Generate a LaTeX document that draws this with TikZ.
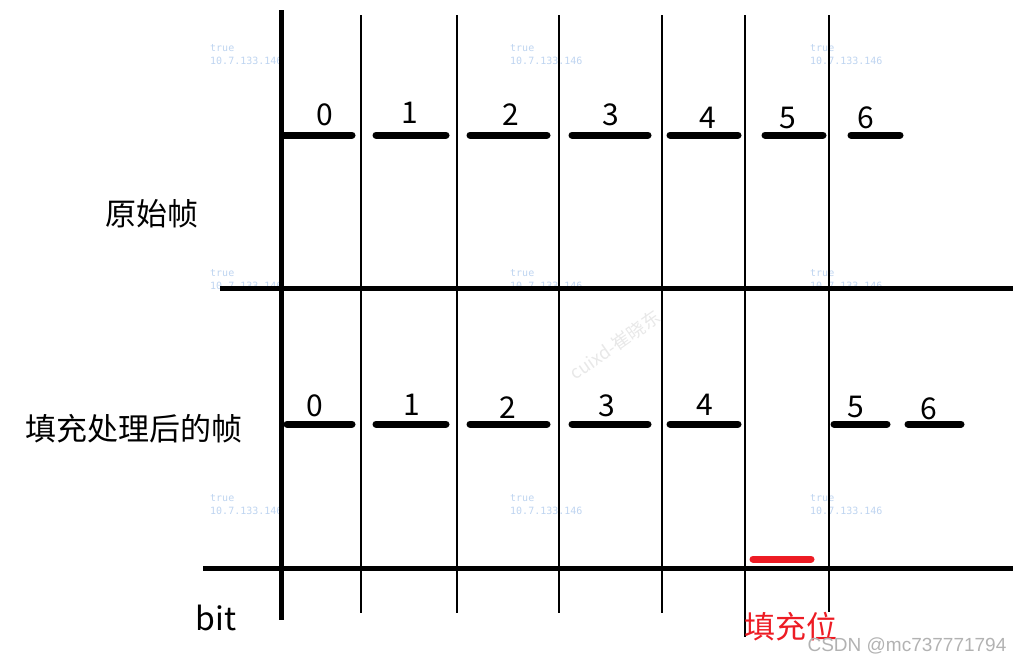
\documentclass[tikz,border=0pt]{standalone}
\usepackage{fontspec}
\setmainfont{Noto Sans CJK SC}
\newfontfamily\wmfont{DejaVu Sans Mono}
\newfontfamily\csdnfont{Liberation Sans}
\definecolor{wmblue}{RGB}{190,212,240}
\definecolor{wmgray}{RGB}{232,232,232}
\definecolor{padred}{RGB}{237,28,36}
\begin{document}
\begin{tikzpicture}[x=1pt,y=-1pt,
  axis/.style={line width=5pt},
  grid/.style={line width=2pt},
  bitseg/.style={line width=7pt,line cap=round},
  lbl/.style={font=\fontsize{30}{30}\selectfont,inner sep=0pt},
  cjk/.style={font=\fontsize{31}{31}\selectfont,inner sep=0pt},
  wm/.style={font=\wmfont\fontsize{10}{13}\selectfont,text=wmblue,inner sep=0pt,anchor=north west,align=left},
  wm2/.style={font=\fontsize{18}{18}\selectfont\itshape,text=wmgray,inner sep=0pt,rotate=35}]
\useasboundingbox (0,0) rectangle (1013,664);
% watermarks
\foreach \x in {210,510,810}
  \foreach \y in {44,269,494}
    \node[wm] at (\x,\y) {true\\10.7.133.146};
\node[wm2] (wa) at (615,345) {cuixd-崔晓东};
% frame lines
\coordinate (vtop) at (281,10);
\coordinate (vbot) at (281,620);
\draw[axis] (vtop) -- (vbot);
\foreach \x/\b in {361/613,457/613,559/613,662/613,745/637,829/612}
  \draw[grid] (\x,15) -- (\x,\b);
\coordinate (h1a) at (220,288); \coordinate (h1b) at (1013,288);
\coordinate (h2a) at (203,568); \coordinate (h2b) at (1013,568);
\draw[axis] (h1a) -- (h1b);
\draw[axis] (h2a) -- (h2b);
% top row
\foreach \a/\b/\lx/\ly/\t in {284/352/325/115/0,376/446/410/113/1,470/547/511/115/2,572/648/611/115/3,670/738/708/118/4,765/823/788/118/5,851/900/866/118/6}{
  \draw[bitseg] (\a,135) -- (\b,135);
  \node[lbl] (t\t) at (\lx,\ly) {\t};
}
% bottom row
\foreach \a/\b/\lx/\ly/\t in {287/352/315/406/0,376/446/412/405/1,470/547/508/408/2,572/648/607/406/3,670/738/705/405/4,834/887/856/407/5,908/961/929/409/6}{
  \draw[bitseg] (\a,424) -- (\b,424);
  \node[lbl] (b\t) at (\lx,\ly) {\t};
}
% pad bit
\coordinate (pa) at (753,559); \coordinate (pb) at (811,559);
\draw[bitseg,padred] (pa) -- (pb);
% texts
\node[cjk] (orig) at (152,214) {原始帧};
\node[cjk] (stuffed) at (134,429) {填充处理后的帧};
\node[cjk,font=\fontsize{32}{32}\selectfont] (bit) at (216,618) {bit};
\node[cjk,text=padred] (padlbl) at (791,627) {填充位};
\node[font=\csdnfont\fontsize{19}{19}\selectfont,text=black!30,inner sep=0pt] (csdn) at (907,646) {CSDN @mc737771794};
\end{tikzpicture}
\end{document}
